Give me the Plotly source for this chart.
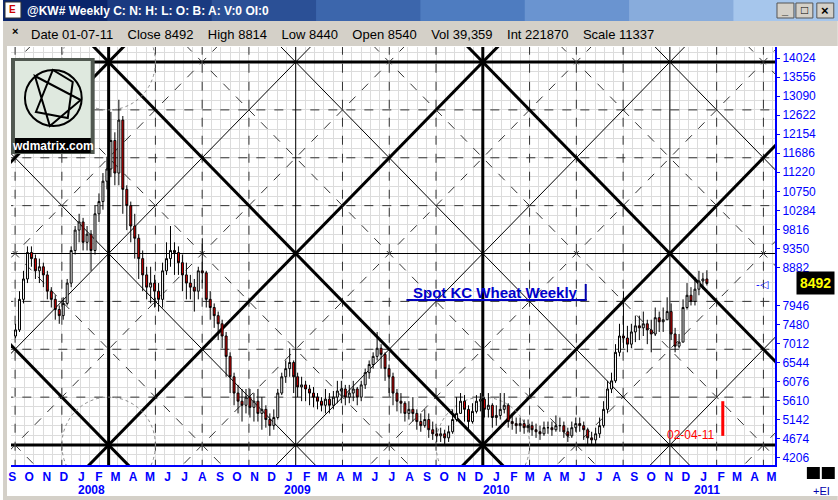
import pandas as pd
import plotly.graph_objects as go

# weekly closes, Sep 2007 .. Jan 7 2011
close = [7350, 8100, 8600, 9250,
         9100, 8800, 8900, 8700,
         8300, 8100, 7850, 7700, 8000,
         8500, 9300, 9800, 10000,
         9500, 9700, 9300, 10200,
         10500, 11000, 11300, 12000, 11200,
         12500, 10800, 10400, 9900,
         9600, 9100, 8700, 8400,
         8500, 8300, 8100, 8800, 9100,
         9300, 9250, 9000, 8700,
         8500, 8400, 8300, 8800,
         8750, 8100, 7900, 7700, 7500,
         7200, 6700, 6200, 5800,
         5600, 5500, 5700, 5450, 5600,
         5300, 5400, 5150, 5000,
         5200, 5800, 6200, 6400,
         6550, 6200, 5950, 6000, 5900,
         5800, 5700, 5600, 5500,
         5650, 5500, 5700, 5850,
         5900, 5700, 5800, 5900, 5700,
         6000, 6300, 6500, 6700,
         6900, 6750, 6400, 6200,
         5800, 5600, 5550, 5300, 5400,
         5300, 5100, 5000, 5150,
         4900, 4800, 4750, 4800,
         4700, 4850, 5150, 5300, 5600,
         5400, 5100, 5350, 5600,
         5650, 5400, 5500, 5200,
         5250, 5400, 5500, 5100, 5050,
         5000, 5050, 4950, 5000,
         4900, 4850, 4800, 4950,
         4950, 4900, 5000, 5000, 4850,
         4750, 4950, 5050, 5000,
         4900, 4700, 4650, 4800,
         5000, 5400, 5900, 6100, 6800,
         7200, 7150, 7000, 7300,
         7450, 7400, 7500, 7350,
         7250, 7650, 7550, 7600, 7800,
         7250, 6950, 7050, 7900,
         8200, 8050, 8350, 8550, 8600,
         8492]

high = [7500, 8300, 8800, 9400,
        9400, 9200, 9100, 9000,
        8800, 8400, 8200, 7950, 8150,
        8600, 9400, 9900, 10200,
        10100, 9900, 9800, 10400,
        10700, 11200, 11600, 12700, 12200,
        13000, 12600, 10900, 10500,
        10200, 9700, 9300, 8900,
        8900, 8700, 8500, 9000, 9500,
        9900, 9500, 9400, 9200,
        9000, 8700, 8600, 8900,
        9600, 8800, 8300, 8000, 7800,
        7600, 7300, 6800, 6300,
        6000, 5900, 5900, 5900, 5800,
        5900, 5700, 5500, 5300,
        5400, 5900, 6300, 6600,
        6900, 6600, 6300, 6200, 6100,
        6000, 5950, 5800, 5700,
        5900, 5800, 5850, 6100,
        6100, 6000, 6000, 6100, 5950,
        6100, 6400, 6600, 6800,
        7300, 7000, 6800, 6500,
        6300, 5900, 5800, 5600, 5600,
        5700, 5400, 5300, 5400,
        5300, 5100, 4950, 4950,
        4900, 5000, 5400, 5700, 5800,
        5750, 5500, 5550, 5750,
        5800, 5700, 5800, 5550,
        5500, 5800, 5800, 5550, 5300,
        5200, 5200, 5150, 5150,
        5100, 5050, 5000, 5100,
        5100, 5100, 5250, 5200, 5100,
        4950, 5100, 5200, 5200,
        5100, 4950, 4850, 4950,
        5200, 5600, 6100, 6300, 7000,
        7500, 8300, 7450, 7500,
        7700, 7700, 7800, 7600,
        7600, 7900, 7800, 7900, 8150,
        8000, 7400, 7250, 8100,
        8500, 8400, 8650, 8800, 8750,
        8814]

low = [7150, 7300, 8000, 8500,
       8900, 8600, 8500, 8400,
       8100, 7900, 7600, 7500, 7600,
       7950, 8400, 9200, 9500,
       9300, 9300, 8800, 9200,
       10000, 10300, 10800, 11100, 10900,
       10900, 10200, 9800, 9500,
       9100, 8600, 8300, 8100,
       8000, 7900, 7800, 7900, 8700,
       8900, 8700, 8700, 8300,
       8100, 8100, 7800, 8100,
       8500, 7900, 7600, 7400, 7100,
       6900, 6200, 5800, 5500,
       5300, 5100, 5300, 5200, 5100,
       5100, 4900, 4950, 4750,
       4900, 5150, 5750, 6050,
       6200, 5800, 5700, 5600, 5600,
       5500, 5450, 5400, 5350,
       5300, 5300, 5400, 5550,
       5550, 5500, 5550, 5600, 5500,
       5600, 5900, 6150, 6400,
       6600, 6400, 6100, 5800,
       5500, 5350, 5300, 5100, 5150,
       5100, 4900, 4850, 4950,
       4700, 4650, 4600, 4600,
       4550, 4600, 4800, 5100, 5300,
       5100, 4900, 5050, 5300,
       5350, 5200, 5200, 4950,
       5000, 5150, 5300, 4950, 4900,
       4800, 4850, 4800, 4850,
       4750, 4700, 4650, 4750,
       4800, 4750, 4850, 4850, 4700,
       4600, 4700, 4850, 4850,
       4650, 4550, 4500, 4550,
       4700, 4950, 5300, 5800, 6050,
       6700, 6900, 6800, 6900,
       7050, 7100, 7200, 7000,
       6800, 7200, 7300, 7300, 7600,
       7100, 6800, 6900, 7050,
       7850, 7950, 7950, 8200, 8350,
       8440]

first_open = 7200
# 8414 sits under the last-price box, so it is not shown
price_ticks = [4206, 4674, 5142, 5610, 6076, 6544, 7012, 7480, 7946, 8882,
               9350, 9816, 10284, 10750, 11220, 11686, 12154, 12622, 13090, 13556, 14024]
year_labels = ["2008", "2009", "2010", "2011"]
last_price = 8492

dates = pd.date_range(end="2011-01-07", periods=len(close), freq="W-FRI")
opens = [first_open] + close[:-1]

# grid frame: origin of the square, cell size in time and price
grid_t0 = pd.Timestamp("2008-02-18")
cell_days = 82.4
grid_p0 = 4525
cell_price = 1175

W, H = 838, 500
ML, MR, MT, MB = 8, 63, 47, 35
def px(x):
    return (x - ML) / (W - ML - MR)
def py(y):
    return (H - MB - y) / (H - MT - MB)

def gdate(u):
    return grid_t0 + pd.Timedelta(days=u * cell_days)
def gprice(v):
    return grid_p0 + v * cell_price

fig = go.Figure(go.Candlestick(
    x=dates, open=opens, high=high, low=low, close=close,
    increasing=dict(line=dict(color="black", width=1), fillcolor="white"),
    decreasing=dict(line=dict(color="black", width=1), fillcolor="#e00000"),
    whiskerwidth=0, showlegend=False, hoverinfo="skip"))

def grid_line(k):
    if k % 8 == 0:
        return dict(color="black", width=3)
    if k % 4 == 0:
        return dict(color="black", width=1)
    return dict(color="#333", width=1, dash="dash")

shapes = []
for k in range(-1, 10):
    shapes.append(dict(type="line", xref="x", yref="y", x0=gdate(-3), x1=gdate(18),
                       y0=gprice(k), y1=gprice(k), line=grid_line(k), layer="between"))
for j in range(-2, 16):
    shapes.append(dict(type="line", xref="x", yref="y", x0=gdate(j), x1=gdate(j),
                       y0=gprice(-2), y1=gprice(10), line=grid_line(j), layer="between"))
for c in range(-24, 32, 2):
    ln = grid_line(c)
    shapes.append(dict(type="line", xref="x", yref="y", x0=gdate(-2 - c), x1=gdate(10 - c),
                       y0=gprice(-2), y1=gprice(10), line=ln, layer="between"))
    shapes.append(dict(type="line", xref="x", yref="y", x0=gdate(c + 2), x1=gdate(c - 10),
                       y0=gprice(-2), y1=gprice(10), line=ln, layer="between"))
for (u, v) in [(0, 0), (0, 8), (8, 0)]:
    shapes.append(dict(type="circle", xref="x", yref="y", x0=gdate(u - 1), x1=gdate(u + 1),
                       y0=gprice(v - 1), y1=gprice(v + 1),
                       line=dict(color="#888", width=1, dash="dot"), layer="between"))

shapes.append(dict(type="line", xref="x", yref="y", x0="2011-02-04", x1="2011-02-04",
                   y0=4750, y1=5600, line=dict(color="red", width=3)))
shapes.append(dict(type="line", xref="paper", yref="paper", x0=px(405), x1=px(586),
                   y0=py(300), y1=py(300), line=dict(color="#0000aa", width=2)))
shapes.append(dict(type="line", xref="paper", yref="paper", x0=px(585), x1=px(585),
                   y0=py(300), y1=py(284), line=dict(color="#0000aa", width=2)))

def rect(x0, y0, x1, y1, fill, line=None, lw=0):
    shapes.append(dict(type="rect", xref="paper", yref="paper", x0=px(x0), x1=px(x1),
                       y0=py(y1), y1=py(y0), fillcolor=fill,
                       line=dict(color=line or fill, width=lw), layer="above"))

blues = ["#0a246a", "#1a3a80", "#2b5096", "#3c66ac", "#4e7cc0", "#6a94d0", "#88acdc", "#a6c6ec"]
for i, col in enumerate(blues):
    rect(i * W / len(blues), 0, (i + 1) * W / len(blues) + 1, 21, col)
rect(0, 21, 838, 46, "#d4d0c8")
rect(0, 46, 4, 500, "#d4d0c8")
rect(0, 496, 838, 500, "#d4d0c8")
rect(2, 2, 18, 18, "white", "#333", 1)
for xb in (777, 796, 817):
    rect(xb, 3, xb + 17, 18, "#d4d0c8", "#555", 1)
# logo
rect(8, 58, 92, 154, "#505850")
rect(12, 61, 88, 138, "#dfe9df")
rect(12, 138, 88, 153, "black")
shapes.append(dict(type="circle", xref="paper", yref="paper", x0=px(22), x1=px(79),
                   y0=py(126), y1=py(70), line=dict(color="black", width=2), layer="above"))
logo_path = "M {},{} L {},{} L {},{} Z M {},{} L {},{} L {},{} L {},{} Z".format(
    px(32), py(76), px(78), py(100), px(47), py(126),
    px(33), py(112), px(50), py(70), px(70), py(82), px(65), py(118))
shapes.append(dict(type="path", xref="paper", yref="paper", path=logo_path,
                   line=dict(color="black", width=2), layer="above"))
rect(807, 467, 820, 479, "black")
rect(822, 467, 835, 479, "black")

def note(x, y, text, color, size, anchor="center", bold=False, **kw):
    return dict(x=px(x), y=py(y), xref="paper", yref="paper", showarrow=False,
                xanchor=anchor, yanchor="middle", text="<b>%s</b>" % text if bold else text,
                font=dict(color=color, size=size, family="Liberation Sans"), **kw)

annotations = [
    note(22, 11, "@KW# Weekly C: N: H: L: O: B: A: V:0 OI:0", "white", 12, "left", True),
    note(10, 10, "E", "#cc0000", 10, bold=True),
    note(26, 34, "Date 01-07-11    Close 8492    High 8814    Low 8440    Open 8540    Vol 39,359    Int 221870    Scale 11337",
         "black", 13, "left"),
    note(12, 31, "×", "black", 11, bold=True),
    note(50, 146, "wdmatrix.com", "white", 12, bold=True),
    note(785.5, 10, "_", "black", 11, bold=True),
    note(804.5, 10.5, "□", "black", 12),
    note(825.5, 10.5, "×", "black", 13, bold=True),
    note(494, 292, "<u>Spot KC Wheat Weekly</u>", "#0000cc", 15, bold=True),
    note(690, 435, "02-04-11", "red", 12),
    note(762, 284, "-◁", "#0000ff", 11),
    note(822, 491, "+EI", "#0000aa", 11),
    dict(x=1.0 + 60 / 767, y=last_price, xref="paper", yref="y", xanchor="right", yanchor="middle",
         showarrow=False, text="<b>%d</b>" % last_price, bgcolor="black", borderpad=3,
         font=dict(color="yellow", size=14, family="Liberation Sans")),
]
for lbl, yx in zip(year_labels, [89, 296, 495, 707]):
    annotations.append(note(yx, 490, lbl, "#0000ff", 12, bold=True))

months = pd.date_range("2007-09-01", "2011-05-01", freq="MS")
month_letters = "JFMAMJJASOND"

fig.update_layout(
    width=W, height=H,
    margin=dict(l=ML, r=MR, t=MT, b=MB),
    paper_bgcolor="white", plot_bgcolor="white",
    shapes=shapes, annotations=annotations,
    font=dict(family="Liberation Sans", size=12, color="#0000ff"),
    xaxis=dict(type="date", range=["2007-08-30", "2011-05-07"], rangeslider=dict(visible=False),
               tickvals=months, ticktext=["<b>%s</b>" % month_letters[m.month - 1] for m in months],
               tickfont=dict(color="#0000ff", size=12), showgrid=False, zeroline=False,
               showline=True, linecolor="#0000ff", linewidth=2, ticks="", ticklabelstandoff=0,
               minor=dict(tick0=grid_t0, dtick=cell_days / 5 * 86400000, showgrid=True,
                          gridcolor="#dcdcdc", gridwidth=1)),
    yaxis=dict(side="right", range=[4034, 14294], tickvals=price_ticks, ticktext=[str(t) for t in price_ticks],
               tickfont=dict(color="#0000ff", size=12), showgrid=False, zeroline=False,
               showline=True, linecolor="#0000ff", linewidth=2, ticks="outside", ticklen=3,
               tickcolor="#0000ff",
               minor=dict(tick0=grid_p0, dtick=cell_price / 5, showgrid=True,
                          gridcolor="#dcdcdc", gridwidth=1)),
)

fig.write_html("out.html", config={"displayModeBar": False},
               post_script="document.body.style.margin='0';")
